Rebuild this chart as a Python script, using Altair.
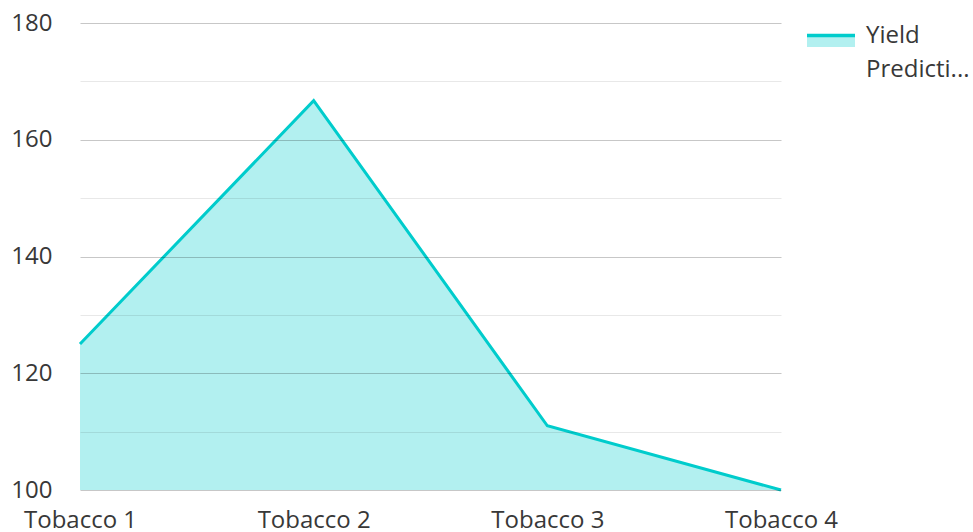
import altair as alt
import pandas as pd

categories = ["Tobacco 1", "Tobacco 2", "Tobacco 3", "Tobacco 4"]
values = [125, 166.7, 111, 100]
series_name = "Yield Prediction"
legend_lines = ["Yield", "Predicti..."]
y_ticks = [100, 110, 120, 130, 140, 150, 160, 170, 180]

LINE = "#00cccc"
FONT = "Open Sans"
TXT = "#383838"
FS = 24

df = pd.DataFrame({"category": categories, "value": values, "series": series_name})

x_enc = alt.X(
    "category:N", sort=categories, title=None,
    scale=alt.Scale(type="point", padding=0),
    axis=alt.Axis(labelAngle=0, labelFontSize=FS, labelColor=TXT, labelFont=FONT,
                  ticks=False, domain=False, grid=False, labelPadding=18),
)
y_enc = alt.Y(
    "value:Q", title=None,
    scale=alt.Scale(domain=[100, 180], nice=False, zero=False),
    axis=alt.Axis(values=y_ticks, labelFontSize=FS, labelColor=TXT, labelFont=FONT,
                  labelExpr="datum.value % 20 === 0 ? datum.label : ''",
                  ticks=False, domain=False, labelPadding=28, zindex=1,
                  gridColor="#000000",
                  gridOpacity={"condition": {"test": "datum.value % 20 === 0", "value": 0.22}, "value": 0.09},
                  gridWidth=1.2),
)

area = alt.Chart(df).mark_area(color=LINE, opacity=0.3).encode(
    x=x_enc, y=y_enc, y2=alt.datum(100)
)
line = alt.Chart(df).mark_line(color=LINE, strokeWidth=3).encode(x=x_enc, y=y_enc)

# legend
leg_df = pd.DataFrame({"line": legend_lines, "i": [0, 1]})
leg_fill = alt.Chart(leg_df).transform_filter("datum.i == 0").mark_rect(color=LINE, opacity=0.3).encode(
    x=alt.value(727), x2=alt.value(775), y=alt.value(12), y2=alt.value(24)
)
leg_rule = alt.Chart(leg_df).transform_filter("datum.i == 0").mark_rule(color=LINE, strokeWidth=3.5).encode(
    x=alt.value(727), x2=alt.value(775), y=alt.value(12.5)
)
leg_text0 = alt.Chart(leg_df).transform_filter("datum.i == 0").mark_text(
    align="left", baseline="middle", fontSize=FS, font=FONT, color=TXT
).encode(x=alt.value(786), y=alt.value(13), text="line:N")
leg_text1 = alt.Chart(leg_df).transform_filter("datum.i == 1").mark_text(
    align="left", baseline="middle", fontSize=FS, font=FONT, color=TXT
).encode(x=alt.value(786), y=alt.value(47), text="line:N")

chart = alt.layer(area, line, leg_fill, leg_rule, leg_text0, leg_text1).properties(
    width=701, height=467,
    background="white",
    autosize=alt.AutoSizeParams(type="none"),
    padding={"left": 80, "top": 23, "right": 192, "bottom": 42},
).configure_view(strokeWidth=0, stroke="transparent")

chart.save("out.html", embed_options={"renderer": "svg", "actions": False})
